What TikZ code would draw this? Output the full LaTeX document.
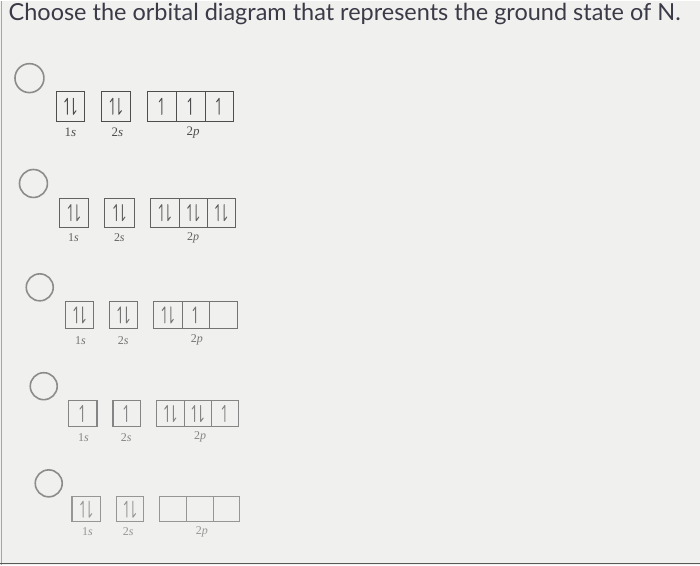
\documentclass[tikz,border=0pt]{standalone}
\usepackage{fontspec}
\setmainfont{Liberation Serif}
\newfontfamily\titlefont{Lato}
\begin{document}
\begin{tikzpicture}[x=1pt,y=-1pt]
\definecolor{bg}{HTML}{F0F0EE}
\definecolor{titlec}{HTML}{3B3B48}
\definecolor{rowa}{HTML}{4E4E4E}
\definecolor{rowb}{HTML}{626262}
\definecolor{rowc}{HTML}{747474}
\definecolor{rowd}{HTML}{858585}
\definecolor{rowe}{HTML}{969696}
\definecolor{ringc}{HTML}{8C8C8C}
\tikzset{
  obox/.style={draw,rectangle,inner sep=0pt,line width=1.2pt},
  harp/.style={line width=1pt,line cap=round,line join=round},
  ring/.style={draw=ringc,circle,inner sep=0pt,line width=1.6pt},
  lbl/.style={inner sep=0pt,font=\fontsize{12}{13}\selectfont},
}
\newcommand\obox[6]{\node[obox,#6,minimum width={(#3-#2)*1pt},minimum height={(#5-#4)*1pt}] (#1) at ({(#2+#3)/2},{(#4+#5)/2}) {};}
\newcommand\hup[3]{\draw[harp,#3] ([xshift=#2pt,yshift=-8pt]#1.center) -- ([xshift=#2pt,yshift=8pt]#1.center) -- ++(-2.6pt,-3.6pt);}
\newcommand\hdn[3]{\draw[harp,#3] ([xshift=#2pt,yshift=8pt]#1.center) -- ([xshift=#2pt,yshift=-8pt]#1.center) -- ++(2.6pt,3.6pt);}
\newcommand\hpair[2]{\hup{#1}{-3}{#2}\hdn{#1}{3}{#2}}
\newcommand\hone[2]{\hup{#1}{0}{#2}}
% background
\fill[bg] (0,0) rectangle (700,565);
\draw[gray!70,line width=1.5pt] (1,0) -- (1,565);
\draw[gray!70!black,line width=1pt] (0,563.5) -- (700,563.5);
% title
\node[anchor=base west,inner sep=0pt,text=titlec,font=\titlefont\fontsize{23.5}{27}\selectfont] (title) at (8,19.5) {Choose the orbital diagram that represents the ground state of N.};
% row 1
\node[ring,minimum size=29pt] (c1) at (29,77.5) {};
\obox{a1}{56}{84}{90.7}{120.7}{draw=rowa}
\obox{a2}{101}{130}{90.7}{120.7}{draw=rowa}
\obox{a3}{147}{176}{90.7}{120.7}{draw=rowa}
\obox{a4}{176}{205}{90.7}{120.7}{draw=rowa}
\obox{a5}{205}{233}{90.7}{120.7}{draw=rowa}
\hpair{a1}{rowa}\hpair{a2}{rowa}\hone{a3}{rowa}\hone{a4}{rowa}\hone{a5}{rowa}
\node[lbl,text=rowa,font=\fontsize{13}{14}\selectfont] (la1) at (70,132) {1\textit{s}};
\node[lbl,text=rowa,font=\fontsize{13}{14}\selectfont] (la2) at (117,132) {2\textit{s}};
\node[lbl,text=rowa,font=\fontsize{13}{14}\selectfont] (la3) at (193,132) {2\textit{p}};
% row 2
\node[ring,minimum size=28pt] (c2) at (33,183) {};
\obox{b1}{59}{88}{197.7}{226.7}{draw=rowb}
\obox{b2}{104}{134}{197.7}{226.7}{draw=rowb}
\obox{b3}{150}{179}{197.7}{226.7}{draw=rowb}
\obox{b4}{179}{207}{197.7}{226.7}{draw=rowb}
\obox{b5}{207}{235}{197.7}{226.7}{draw=rowb}
\hpair{b1}{rowb}\hpair{b2}{rowb}\hpair{b3}{rowb}\hpair{b4}{rowb}\hpair{b5}{rowb}
\node[lbl,text=rowb] (lb1) at (73,237) {1\textit{s}};
\node[lbl,text=rowb] (lb2) at (119,237) {2\textit{s}};
\node[lbl,text=rowb] (lb3) at (193,237) {2\textit{p}};
% row 3
\node[ring,minimum size=27pt] (c3) at (39.3,287) {};
\obox{d1}{65}{93.3}{301}{328.3}{draw=rowc}
\obox{d2}{109}{137.3}{301}{328.3}{draw=rowc}
\obox{d3}{153}{182}{301}{328.3}{draw=rowc}
\obox{d4}{182}{209}{301}{328.3}{draw=rowc}
\obox{d5}{209}{237.7}{301}{328.3}{draw=rowc}
\hpair{d1}{rowc}\hpair{d2}{rowc}\hpair{d3}{rowc}\hone{d4}{rowc}
\node[lbl,text=rowc] (ld1) at (80,340) {1\textit{s}};
\node[lbl,text=rowc] (ld2) at (123,340) {2\textit{s}};
\node[lbl,text=rowc] (ld3) at (196.7,340) {2\textit{p}};
% row 4
\node[ring,minimum size=27pt] (c4) at (43.3,386) {};
\obox{e1}{67.7}{96.7}{400}{426.7}{draw=rowd}
\obox{e2}{112.7}{140}{400}{426.7}{draw=rowd}
\obox{e3}{156}{184}{400}{426.7}{draw=rowd}
\obox{e4}{184}{211}{400}{426.7}{draw=rowd}
\obox{e5}{211}{238.3}{400}{426.7}{draw=rowd}
\hone{e1}{rowd}\hone{e2}{rowd}\hpair{e3}{rowd}\hpair{e4}{rowd}\hone{e5}{rowd}
\node[lbl,text=rowd] (le1) at (83,437) {1\textit{s}};
\node[lbl,text=rowd] (le2) at (126,437) {2\textit{s}};
\node[lbl,text=rowd] (le3) at (200,437) {2\textit{p}};
% row 5
\node[ring,minimum size=27pt] (c5) at (48.3,483.3) {};
\obox{f1}{71.7}{100}{496.7}{521.7}{draw=rowe}
\obox{f2}{116}{143.3}{496.7}{521.7}{draw=rowe}
\obox{f3}{159}{186}{496.7}{521.7}{draw=rowe}
\obox{f4}{186}{213}{496.7}{521.7}{draw=rowe}
\obox{f5}{213}{239.3}{496.7}{521.7}{draw=rowe}
\hpair{f1}{rowe}\hpair{f2}{rowe}
\node[lbl,text=rowe] (lf1) at (87,532) {1\textit{s}};
\node[lbl,text=rowe] (lf2) at (128,532) {2\textit{s}};
\node[lbl,text=rowe] (lf3) at (201.7,532) {2\textit{p}};
\end{tikzpicture}
\end{document}
